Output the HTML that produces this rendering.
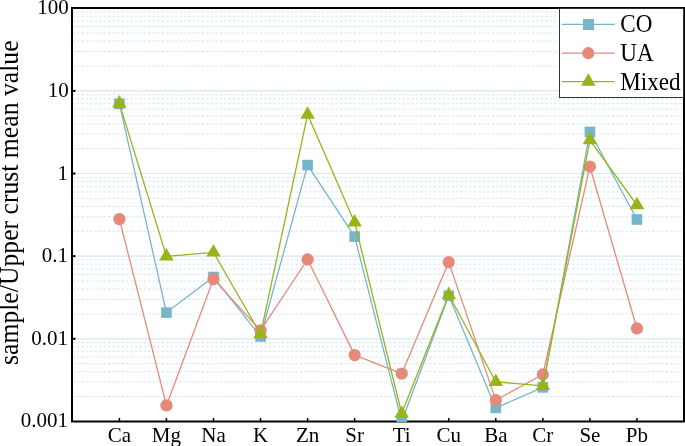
<!DOCTYPE html><html><head><meta charset="utf-8"><style>html,body{margin:0;padding:0;background:#fff;}svg{display:block;}text{font-family:"Liberation Serif","Times New Roman",serif;fill:#000;}</style></head><body>
<svg width="685" height="446" viewBox="0 0 685 446">
<line x1="72.1" y1="396.54" x2="683" y2="396.54" stroke="#cfe6ed" stroke-width="1" stroke-dasharray="2.4 2.06" stroke-dashoffset="-0.3"/>
<line x1="72.1" y1="381.99" x2="683" y2="381.99" stroke="#cfe6ed" stroke-width="1" stroke-dasharray="2.4 2.06" stroke-dashoffset="-0.3"/>
<line x1="72.1" y1="371.66" x2="683" y2="371.66" stroke="#cfe6ed" stroke-width="1" stroke-dasharray="2.4 2.06" stroke-dashoffset="-0.3"/>
<line x1="72.1" y1="363.65" x2="683" y2="363.65" stroke="#cfe6ed" stroke-width="1" stroke-dasharray="2.4 2.06" stroke-dashoffset="-0.3"/>
<line x1="72.1" y1="357.11" x2="683" y2="357.11" stroke="#cfe6ed" stroke-width="1" stroke-dasharray="2.4 2.06" stroke-dashoffset="-0.3"/>
<line x1="72.1" y1="351.58" x2="683" y2="351.58" stroke="#cfe6ed" stroke-width="1" stroke-dasharray="2.4 2.06" stroke-dashoffset="-0.3"/>
<line x1="72.1" y1="346.79" x2="683" y2="346.79" stroke="#cfe6ed" stroke-width="1" stroke-dasharray="2.4 2.06" stroke-dashoffset="-0.3"/>
<line x1="72.1" y1="342.56" x2="683" y2="342.56" stroke="#cfe6ed" stroke-width="1" stroke-dasharray="2.4 2.06" stroke-dashoffset="-0.3"/>
<line x1="72.1" y1="313.91" x2="683" y2="313.91" stroke="#cfe6ed" stroke-width="1" stroke-dasharray="2.4 2.06" stroke-dashoffset="-0.3"/>
<line x1="72.1" y1="299.36" x2="683" y2="299.36" stroke="#cfe6ed" stroke-width="1" stroke-dasharray="2.4 2.06" stroke-dashoffset="-0.3"/>
<line x1="72.1" y1="289.03" x2="683" y2="289.03" stroke="#cfe6ed" stroke-width="1" stroke-dasharray="2.4 2.06" stroke-dashoffset="-0.3"/>
<line x1="72.1" y1="281.02" x2="683" y2="281.02" stroke="#cfe6ed" stroke-width="1" stroke-dasharray="2.4 2.06" stroke-dashoffset="-0.3"/>
<line x1="72.1" y1="274.48" x2="683" y2="274.48" stroke="#cfe6ed" stroke-width="1" stroke-dasharray="2.4 2.06" stroke-dashoffset="-0.3"/>
<line x1="72.1" y1="268.95" x2="683" y2="268.95" stroke="#cfe6ed" stroke-width="1" stroke-dasharray="2.4 2.06" stroke-dashoffset="-0.3"/>
<line x1="72.1" y1="264.16" x2="683" y2="264.16" stroke="#cfe6ed" stroke-width="1" stroke-dasharray="2.4 2.06" stroke-dashoffset="-0.3"/>
<line x1="72.1" y1="259.93" x2="683" y2="259.93" stroke="#cfe6ed" stroke-width="1" stroke-dasharray="2.4 2.06" stroke-dashoffset="-0.3"/>
<line x1="72.1" y1="231.28" x2="683" y2="231.28" stroke="#cfe6ed" stroke-width="1" stroke-dasharray="2.4 2.06" stroke-dashoffset="-0.3"/>
<line x1="72.1" y1="216.73" x2="683" y2="216.73" stroke="#cfe6ed" stroke-width="1" stroke-dasharray="2.4 2.06" stroke-dashoffset="-0.3"/>
<line x1="72.1" y1="206.40" x2="683" y2="206.40" stroke="#cfe6ed" stroke-width="1" stroke-dasharray="2.4 2.06" stroke-dashoffset="-0.3"/>
<line x1="72.1" y1="198.39" x2="683" y2="198.39" stroke="#cfe6ed" stroke-width="1" stroke-dasharray="2.4 2.06" stroke-dashoffset="-0.3"/>
<line x1="72.1" y1="191.85" x2="683" y2="191.85" stroke="#cfe6ed" stroke-width="1" stroke-dasharray="2.4 2.06" stroke-dashoffset="-0.3"/>
<line x1="72.1" y1="186.32" x2="683" y2="186.32" stroke="#cfe6ed" stroke-width="1" stroke-dasharray="2.4 2.06" stroke-dashoffset="-0.3"/>
<line x1="72.1" y1="181.53" x2="683" y2="181.53" stroke="#cfe6ed" stroke-width="1" stroke-dasharray="2.4 2.06" stroke-dashoffset="-0.3"/>
<line x1="72.1" y1="177.30" x2="683" y2="177.30" stroke="#cfe6ed" stroke-width="1" stroke-dasharray="2.4 2.06" stroke-dashoffset="-0.3"/>
<line x1="72.1" y1="148.65" x2="683" y2="148.65" stroke="#cfe6ed" stroke-width="1" stroke-dasharray="2.4 2.06" stroke-dashoffset="-0.3"/>
<line x1="72.1" y1="134.10" x2="683" y2="134.10" stroke="#cfe6ed" stroke-width="1" stroke-dasharray="2.4 2.06" stroke-dashoffset="-0.3"/>
<line x1="72.1" y1="123.77" x2="683" y2="123.77" stroke="#cfe6ed" stroke-width="1" stroke-dasharray="2.4 2.06" stroke-dashoffset="-0.3"/>
<line x1="72.1" y1="115.76" x2="683" y2="115.76" stroke="#cfe6ed" stroke-width="1" stroke-dasharray="2.4 2.06" stroke-dashoffset="-0.3"/>
<line x1="72.1" y1="109.22" x2="683" y2="109.22" stroke="#cfe6ed" stroke-width="1" stroke-dasharray="2.4 2.06" stroke-dashoffset="-0.3"/>
<line x1="72.1" y1="103.69" x2="683" y2="103.69" stroke="#cfe6ed" stroke-width="1" stroke-dasharray="2.4 2.06" stroke-dashoffset="-0.3"/>
<line x1="72.1" y1="98.90" x2="683" y2="98.90" stroke="#cfe6ed" stroke-width="1" stroke-dasharray="2.4 2.06" stroke-dashoffset="-0.3"/>
<line x1="72.1" y1="94.67" x2="683" y2="94.67" stroke="#cfe6ed" stroke-width="1" stroke-dasharray="2.4 2.06" stroke-dashoffset="-0.3"/>
<line x1="72.1" y1="66.02" x2="683" y2="66.02" stroke="#cfe6ed" stroke-width="1" stroke-dasharray="2.4 2.06" stroke-dashoffset="-0.3"/>
<line x1="72.1" y1="51.47" x2="683" y2="51.47" stroke="#cfe6ed" stroke-width="1" stroke-dasharray="2.4 2.06" stroke-dashoffset="-0.3"/>
<line x1="72.1" y1="41.14" x2="683" y2="41.14" stroke="#cfe6ed" stroke-width="1" stroke-dasharray="2.4 2.06" stroke-dashoffset="-0.3"/>
<line x1="72.1" y1="33.13" x2="683" y2="33.13" stroke="#cfe6ed" stroke-width="1" stroke-dasharray="2.4 2.06" stroke-dashoffset="-0.3"/>
<line x1="72.1" y1="26.59" x2="683" y2="26.59" stroke="#cfe6ed" stroke-width="1" stroke-dasharray="2.4 2.06" stroke-dashoffset="-0.3"/>
<line x1="72.1" y1="21.06" x2="683" y2="21.06" stroke="#cfe6ed" stroke-width="1" stroke-dasharray="2.4 2.06" stroke-dashoffset="-0.3"/>
<line x1="72.1" y1="16.27" x2="683" y2="16.27" stroke="#cfe6ed" stroke-width="1" stroke-dasharray="2.4 2.06" stroke-dashoffset="-0.3"/>
<line x1="72.1" y1="12.04" x2="683" y2="12.04" stroke="#cfe6ed" stroke-width="1" stroke-dasharray="2.4 2.06" stroke-dashoffset="-0.3"/>
<line x1="73" y1="338.78" x2="683" y2="338.78" stroke="#d4e9f0" stroke-width="1.2"/>
<line x1="73" y1="256.15" x2="683" y2="256.15" stroke="#d4e9f0" stroke-width="1.2"/>
<line x1="73" y1="173.52" x2="683" y2="173.52" stroke="#d4e9f0" stroke-width="1.2"/>
<line x1="73" y1="90.89" x2="683" y2="90.89" stroke="#d4e9f0" stroke-width="1.2"/>
<rect x="72.00" y="8.00" width="612.00" height="413.50" fill="none" stroke="#000" stroke-width="2"/>
<line x1="72.0" y1="338.78" x2="75.5" y2="338.78" stroke="#000" stroke-width="2"/>
<line x1="72.0" y1="256.15" x2="75.5" y2="256.15" stroke="#000" stroke-width="2"/>
<line x1="72.0" y1="173.52" x2="75.5" y2="173.52" stroke="#000" stroke-width="2"/>
<line x1="72.0" y1="90.89" x2="75.5" y2="90.89" stroke="#000" stroke-width="2"/>
<line x1="119.40" y1="421.5" x2="119.40" y2="418.0" stroke="#000" stroke-width="1.5"/>
<line x1="166.45" y1="421.5" x2="166.45" y2="418.0" stroke="#000" stroke-width="1.5"/>
<line x1="213.50" y1="421.5" x2="213.50" y2="418.0" stroke="#000" stroke-width="1.5"/>
<line x1="260.55" y1="421.5" x2="260.55" y2="418.0" stroke="#000" stroke-width="1.5"/>
<line x1="307.60" y1="421.5" x2="307.60" y2="418.0" stroke="#000" stroke-width="1.5"/>
<line x1="354.65" y1="421.5" x2="354.65" y2="418.0" stroke="#000" stroke-width="1.5"/>
<line x1="401.70" y1="421.5" x2="401.70" y2="418.0" stroke="#000" stroke-width="1.5"/>
<line x1="448.75" y1="421.5" x2="448.75" y2="418.0" stroke="#000" stroke-width="1.5"/>
<line x1="495.80" y1="421.5" x2="495.80" y2="418.0" stroke="#000" stroke-width="1.5"/>
<line x1="542.85" y1="421.5" x2="542.85" y2="418.0" stroke="#000" stroke-width="1.5"/>
<line x1="589.90" y1="421.5" x2="589.90" y2="418.0" stroke="#000" stroke-width="1.5"/>
<line x1="636.95" y1="421.5" x2="636.95" y2="418.0" stroke="#000" stroke-width="1.5"/>
<defs><clipPath id="cp"><rect x="72" y="7" width="612" height="415"/></clipPath></defs><g clip-path="url(#cp)">
<polyline points="119.40,103.70 166.45,312.60 213.50,277.00 260.55,336.50 307.60,165.10 354.65,236.60 401.70,421.40 448.75,295.80 495.80,407.90 542.85,387.40 589.90,131.90 636.95,219.50" fill="none" stroke="#78b5c9" stroke-width="1.3" stroke-linejoin="round"/>
<rect x="114.10" y="98.40" width="10.6" height="10.6" fill="#78b5c9"/>
<rect x="161.15" y="307.30" width="10.6" height="10.6" fill="#78b5c9"/>
<rect x="208.20" y="271.70" width="10.6" height="10.6" fill="#78b5c9"/>
<rect x="255.25" y="331.20" width="10.6" height="10.6" fill="#78b5c9"/>
<rect x="302.30" y="159.80" width="10.6" height="10.6" fill="#78b5c9"/>
<rect x="349.35" y="231.30" width="10.6" height="10.6" fill="#78b5c9"/>
<rect x="396.40" y="416.10" width="10.6" height="10.6" fill="#78b5c9"/>
<rect x="443.45" y="290.50" width="10.6" height="10.6" fill="#78b5c9"/>
<rect x="490.50" y="402.60" width="10.6" height="10.6" fill="#78b5c9"/>
<rect x="537.55" y="382.10" width="10.6" height="10.6" fill="#78b5c9"/>
<rect x="584.60" y="126.60" width="10.6" height="10.6" fill="#78b5c9"/>
<rect x="631.65" y="214.20" width="10.6" height="10.6" fill="#78b5c9"/>
<polyline points="119.40,219.10 166.45,405.40 213.50,279.10 260.55,330.40 307.60,259.50 354.65,355.10 401.70,373.70 448.75,262.10 495.80,400.10 542.85,374.50 589.90,166.70 636.95,328.50" fill="none" stroke="#e58a7b" stroke-width="1.3" stroke-linejoin="round"/>
<circle cx="119.40" cy="219.10" r="6.15" fill="#e58a7b"/>
<circle cx="166.45" cy="405.40" r="6.15" fill="#e58a7b"/>
<circle cx="213.50" cy="279.10" r="6.15" fill="#e58a7b"/>
<circle cx="260.55" cy="330.40" r="6.15" fill="#e58a7b"/>
<circle cx="307.60" cy="259.50" r="6.15" fill="#e58a7b"/>
<circle cx="354.65" cy="355.10" r="6.15" fill="#e58a7b"/>
<circle cx="401.70" cy="373.70" r="6.15" fill="#e58a7b"/>
<circle cx="448.75" cy="262.10" r="6.15" fill="#e58a7b"/>
<circle cx="495.80" cy="400.10" r="6.15" fill="#e58a7b"/>
<circle cx="542.85" cy="374.50" r="6.15" fill="#e58a7b"/>
<circle cx="589.90" cy="166.70" r="6.15" fill="#e58a7b"/>
<circle cx="636.95" cy="328.50" r="6.15" fill="#e58a7b"/>
<polyline points="119.40,103.40 166.45,256.30 213.50,252.40 260.55,334.20 307.60,114.60 354.65,222.40 401.70,413.50 448.75,294.80 495.80,381.80 542.85,385.80 589.90,140.10 636.95,205.00" fill="none" stroke="#99b31b" stroke-width="1.3" stroke-linejoin="round"/>
<polygon points="119.40,95.07 112.15,107.57 126.65,107.57" fill="#99b31b"/>
<polygon points="166.45,247.97 159.20,260.47 173.70,260.47" fill="#99b31b"/>
<polygon points="213.50,244.07 206.25,256.57 220.75,256.57" fill="#99b31b"/>
<polygon points="260.55,325.87 253.30,338.37 267.80,338.37" fill="#99b31b"/>
<polygon points="307.60,106.27 300.35,118.77 314.85,118.77" fill="#99b31b"/>
<polygon points="354.65,214.07 347.40,226.57 361.90,226.57" fill="#99b31b"/>
<polygon points="401.70,405.17 394.45,417.67 408.95,417.67" fill="#99b31b"/>
<polygon points="448.75,286.47 441.50,298.97 456.00,298.97" fill="#99b31b"/>
<polygon points="495.80,373.47 488.55,385.97 503.05,385.97" fill="#99b31b"/>
<polygon points="542.85,377.47 535.60,389.97 550.10,389.97" fill="#99b31b"/>
<polygon points="589.90,131.77 582.65,144.27 597.15,144.27" fill="#99b31b"/>
<polygon points="636.95,196.67 629.70,209.17 644.20,209.17" fill="#99b31b"/>
</g>
<text x="68.8" y="14.31" font-size="21" text-anchor="end">100</text>
<text x="68.8" y="96.94" font-size="21" text-anchor="end">10</text>
<text x="68.0" y="179.57" font-size="21" text-anchor="end">1</text>
<text x="68.0" y="262.20" font-size="21" text-anchor="end">0.1</text>
<text x="68.0" y="344.83" font-size="21" text-anchor="end">0.01</text>
<text x="68.0" y="427.46" font-size="21" text-anchor="end">0.001</text>
<text x="119.40" y="442" font-size="21" text-anchor="middle">Ca</text>
<text x="166.45" y="442" font-size="21" text-anchor="middle">Mg</text>
<text x="213.50" y="442" font-size="21" text-anchor="middle">Na</text>
<text x="260.55" y="442" font-size="21" text-anchor="middle">K</text>
<text x="307.60" y="442" font-size="21" text-anchor="middle">Zn</text>
<text x="354.65" y="442" font-size="21" text-anchor="middle">Sr</text>
<text x="401.70" y="442" font-size="21" text-anchor="middle">Ti</text>
<text x="448.75" y="442" font-size="21" text-anchor="middle">Cu</text>
<text x="495.80" y="442" font-size="21" text-anchor="middle">Ba</text>
<text x="542.85" y="442" font-size="21" text-anchor="middle">Cr</text>
<text x="589.90" y="442" font-size="21" text-anchor="middle">Se</text>
<text x="636.95" y="442" font-size="21" text-anchor="middle">Pb</text>
<text transform="translate(18.3,365.0) rotate(-90) scale(1,1.035)" font-size="25.7">sample/Upper crust mean value</text>
<rect x="559.5" y="8.5" width="124" height="89" fill="#fff" stroke="#333" stroke-width="1"/>
<line x1="561.8" y1="24.4" x2="614.8" y2="24.4" stroke="#78b5c9" stroke-width="1.3"/>
<rect x="583.0" y="19.0" width="11" height="11" fill="#78b5c9"/>
<text transform="translate(620.3,32.3) scale(0.955,1)" font-size="24.2">CO</text>
<line x1="561.8" y1="53.2" x2="614.8" y2="53.2" stroke="#e58a7b" stroke-width="1.3"/>
<circle cx="588.3" cy="53.2" r="6.1" fill="#e58a7b"/>
<text transform="translate(620.3,60.9) scale(0.955,1)" font-size="24.2">UA</text>
<line x1="561.8" y1="81.6" x2="614.8" y2="81.6" stroke="#99b31b" stroke-width="1.3"/>
<polygon points="588.3,73.3 581.05,85.7 595.55,85.7" fill="#99b31b"/>
<text transform="translate(620.3,89.5) scale(0.955,1)" font-size="24.2">Mixed</text>
</svg></body></html>
